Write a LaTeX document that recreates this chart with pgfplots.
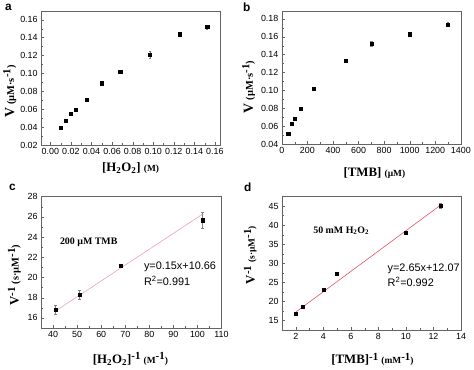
\documentclass[border=0pt]{standalone}
\usepackage{pgfplots}
\pgfplotsset{compat=1.18}
\usepackage{fontspec}
\setmainfont{Liberation Serif}
\setsansfont{Liberation Sans}
\definecolor{linec}{RGB}{240,160,172}
\definecolor{lined}{RGB}{228,80,100}
\definecolor{frame}{RGB}{100,100,100}
\newcommand{\myun}{\fontsize{9.5}{11}\selectfont}
\newcommand{\myuy}{\fontsize{10.5}{12}\selectfont}
\newcommand{\mysup}[1]{\raisebox{0.6ex}{\fontsize{11}{12}\selectfont #1}}
\pgfplotsset{
  panel/.style={
    scale only axis,
    axis line style={frame},
    tick align=inside, tick pos=left,
    minor tick num=1,
    major tick length=3pt, minor tick length=1.8pt,
    tick style={frame},
    ticklabel style={font=\sffamily\fontsize{9}{10}\selectfont},
    /pgf/number format/assume math mode=true,
    /pgf/number format/1000 sep={},
    label style={font=\bfseries\fontsize{13}{15}\selectfont},
    xlabel style={anchor=center},
    ylabel style={anchor=center},
  },
  dec2/.style={/pgf/number format/.cd, fixed, fixed zerofill, precision=2},
  pts/.style={only marks, mark=square*, mark size=1.6pt, color=black,
    mark options={draw=black, fill=black},
    error bars/.cd, y dir=both, y explicit,
    error bar style={gray, line width=0.5pt},
    error mark options={rotate=90, mark size=1.3pt, gray}},
}
\pgfplotstableread{
x y e
0.010 0.0393 0.001
0.015 0.0475 0.001
0.020 0.0549 0.001
0.025 0.0597 0.001
0.035 0.0705 0.001
0.050 0.0890 0.0015
0.068 0.1017 0.0015
0.097 0.1210 0.004
0.126 0.1437 0.002
0.1525 0.1519 0.002
}\dataA
\pgfplotstableread{
x y e
50 0.0518 0.001
80 0.0629 0.001
100 0.0684 0.0015
150 0.0795 0.001
250 0.1017 0.0015
500 0.1333 0.002
700 0.1523 0.003
1000 0.1627 0.0015
1300 0.1737 0.002
}\dataB
\pgfplotstableread{
x y e
41 16.81 0.4
51 18.29 0.4
68 21.15 0.15
102 25.65 0.8
}\dataC
\pgfplotstableread{
x y e
2 16.7 0.2
2.5 18.7 0.2
4 23.0 0.2
5 27.3 0.2
10 38.1 0.4
12.5 45.1 0.6
}\dataD
\begin{document}
\begin{tikzpicture}
\path (0,0) rectangle (474pt,364pt);
% panel a
\begin{axis}[panel, at={(40pt,219pt)}, anchor=south west,
  width=181pt, height=135pt,
  xmin=-0.009, xmax=0.165, ymin=0.02, ymax=0.169,
  xtick={0,0.02,...,0.161}, ytick={0.02,0.04,...,0.161},
  xticklabel style={dec2}, yticklabel style={dec2},
  xlabel={[H\textsubscript{2}O\textsubscript{2}] {\myun(M)}},
  ylabel={{\fontsize{14}{15}\selectfont V} {\myuy(µM·s}\mysup{-1}{\myuy)}},
  xlabel style={at={(axis description cs:0.5,-0.17)}},
  ylabel style={at={(axis description cs:-0.175,0.40)}},
]
\addplot[pts] table[x=x,y=y,y error=e]{\dataA};
\end{axis}
% panel b
\begin{axis}[panel, at={(283.5pt,220pt)}, anchor=south west,
  width=181pt, height=134pt,
  xmin=0, xmax=1400, ymin=0.04, ymax=0.188,
  xtick={0,200,...,1400}, ytick={0.04,0.06,...,0.181},
  yticklabel style={dec2},
  xlabel={[TMB] {\myun(µM)}},
  ylabel={{\fontsize{14}{15}\selectfont V} {\myuy(µM·s}\mysup{-1}{\myuy)}},
  xlabel style={at={(axis description cs:0.517,-0.215)}},
  ylabel style={at={(axis description cs:-0.185,0.43)}},
]
\addplot[pts] table[x=x,y=y,y error=e]{\dataB};
\end{axis}
% panel c
\begin{axis}[panel, at={(40pt,34pt)}, anchor=south west,
  width=182.5pt, height=133pt,
  xmin=35, xmax=110, ymin=15, ymax=28,
  xtick={40,50,...,110}, ytick={16,18,...,28},
  xlabel={[H\textsubscript{2}O\textsubscript{2}]\mysup{-1} {\myun(M}\mysup{-1}{\myun)}},
  ylabel={V\mysup{-1} {\myuy(s·µM}\mysup{-1}{\myuy)}},
  xlabel style={at={(axis description cs:0.495,-0.235)}},
  ylabel style={at={(axis description cs:-0.148,0.40)}},
]
\addplot[linec, line width=0.6pt] coordinates {(40.5,16.6) (102.4,26.3)};
\addplot[pts] table[x=x,y=y,y error=e]{\dataC};
\node[font=\bfseries\fontsize{10}{12}\selectfont] at (axis cs:54.8,23.5) {200 µM TMB};
\node[font=\sffamily\fontsize{11}{13}\selectfont, anchor=west, inner sep=0pt] at (axis cs:77.7,21.0) {y=0.15x+10.66};
\node[font=\sffamily\fontsize{11}{13}\selectfont, anchor=west, inner sep=0pt] at (axis cs:77.7,19.7) {R\textsuperscript{2}=0.991};
\end{axis}
% panel d
\begin{axis}[panel, at={(283.7pt,32pt)}, anchor=south west,
  width=181pt, height=135pt,
  xmin=1, xmax=14, ymin=12.5, ymax=47.5,
  xtick={2,4,...,14}, ytick={15,20,...,45},
  xlabel={[TMB]\mysup{-1} {\myun(mM}\mysup{-1}{\myun)}},
  ylabel={V\mysup{-1} {\myun(s·µM}\mysup{-1}{\myun)}},
  xlabel style={at={(axis description cs:0.505,-0.222)}},
  ylabel style={at={(axis description cs:-0.177,0.56)}},
]
\addplot[lined, line width=0.6pt] coordinates {(2,17.2) (12.5,45.2)};
\addplot[pts] table[x=x,y=y,y error=e]{\dataD};
\node[font=\bfseries\fontsize{10}{12}\selectfont] at (axis cs:5.3,38.5) {50 mM H\textsubscript{2}O\textsubscript{2}};
\node[font=\sffamily\fontsize{11}{13}\selectfont, anchor=west, inner sep=0pt] at (axis cs:8.66,28.6) {y=2.65x+12.07};
\node[font=\sffamily\fontsize{11}{13}\selectfont, anchor=west, inner sep=0pt] at (axis cs:8.66,25.2) {R\textsuperscript{2}=0.992};
\end{axis}
% panel letters
\node[font=\sffamily\bfseries\fontsize{12}{14}\selectfont] at (7pt,358pt) {a};
\node[font=\sffamily\bfseries\fontsize{12}{14}\selectfont] at (248pt,358pt) {b};
\node[font=\sffamily\bfseries\fontsize{12}{14}\selectfont] at (11pt,176pt) {c};
\node[font=\sffamily\bfseries\fontsize{12}{14}\selectfont] at (249pt,176pt) {d};
\end{tikzpicture}
\end{document}
